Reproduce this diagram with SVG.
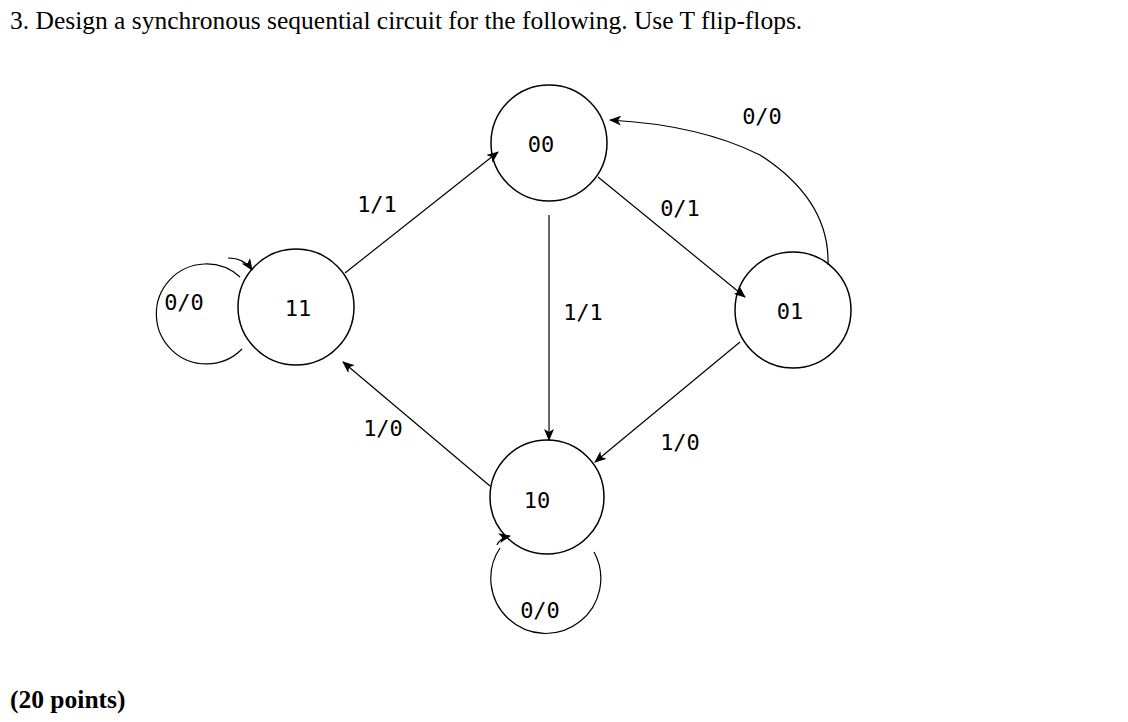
<svg xmlns="http://www.w3.org/2000/svg" width="1128" height="722" viewBox="0 0 1128 722">
<defs>
<marker id="ah" markerWidth="12" markerHeight="10" refX="11" refY="5" orient="auto" markerUnits="userSpaceOnUse"><path d="M0,0 L12,5 L0,10 L3,5 Z" fill="#000"/></marker>
<style>
.n{fill:none;stroke:#000;stroke-width:1.5}
.e{fill:none;stroke:#000;stroke-width:1.2}
.l{font-family:"DejaVu Sans Mono","Liberation Mono",monospace;font-size:22px;fill:#000;text-anchor:middle}
.t{font-family:"Liberation Serif",serif;font-size:25.5px;fill:#000}
</style>
</defs>
<rect width="1128" height="722" fill="#fff"/>
<text class="t" x="10" y="29">3. Design a synchronous sequential circuit for the following. Use T flip-flops.</text>
<text class="t" x="10" y="708" font-weight="bold">(20 points)</text>
<g id="n00"><circle class="n" cx="549" cy="143" r="58"/><text class="l" x="541" y="152">00</text></g>
<g id="n11"><circle class="n" cx="296" cy="307" r="58"/><text class="l" x="298" y="316">11</text></g>
<g id="n01"><circle class="n" cx="793" cy="310" r="58"/><text class="l" x="790" y="319">01</text></g>
<g id="n10"><circle class="n" cx="547" cy="497" r="57"/><text class="l" x="537" y="508">10</text></g>
<g id="connectors">
<path class="e" d="M240,277 A50,50 0 1 0 242,349"/>
<path class="e" d="M228,258 Q244,258 252,270" marker-end="url(#ah)"/>
<path class="e" d="M500,548 A55,55 0 1 0 594,552"/>
<path class="e" d="M497,545 Q500,538 510,536" marker-end="url(#ah)"/>
<path class="e" d="M828,265 Q830,200 760,155 Q700,125 610,120" marker-end="url(#ah)"/>
<line class="e" x1="345" y1="273" x2="498" y2="152" marker-end="url(#ah)"/>
<line class="e" x1="598" y1="177" x2="745" y2="297" marker-end="url(#ah)"/>
<line class="e" x1="549" y1="215" x2="549" y2="440" marker-end="url(#ah)"/>
<line class="e" x1="740" y1="342" x2="595" y2="462" marker-end="url(#ah)"/>
<line class="e" x1="490" y1="486" x2="343" y2="362" marker-end="url(#ah)"/>
</g>
<g id="labels">
<text class="l" x="377" y="212">1/1</text>
<text class="l" x="680" y="216">0/1</text>
<text class="l" x="583" y="320">1/1</text>
<text class="l" x="383" y="436">1/0</text>
<text class="l" x="680" y="450">1/0</text>
<text class="l" x="762" y="124">0/0</text>
<text class="l" x="184" y="310">0/0</text>
<text class="l" x="540" y="618">0/0</text>
</g>
</svg>
